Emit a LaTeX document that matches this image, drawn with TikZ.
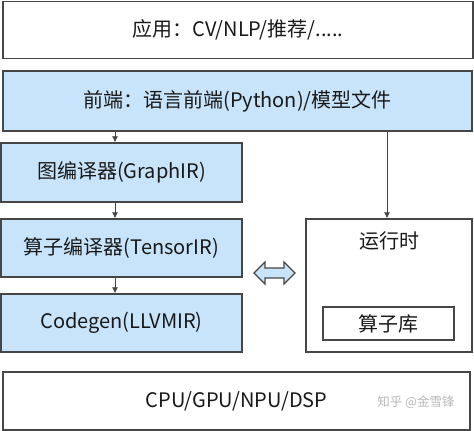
\documentclass[tikz,border=0pt]{standalone}
\usepackage{fontspec}
\setmainfont{Noto Sans CJK SC}
\usetikzlibrary{arrows.meta}
\definecolor{bluefill}{RGB}{200,228,250}
\definecolor{bordc}{RGB}{70,70,70}
\definecolor{txt}{RGB}{25,25,25}
\definecolor{wm}{RGB}{185,185,185}
\begin{document}
\begin{tikzpicture}[x=1pt,y=-1pt,
  box/.style={draw=bordc, line width=1.4pt, inner sep=0pt, text=txt, font=\fontsize{20}{23}\selectfont},
  bbox/.style={box, fill=bluefill},
  wbox/.style={box, fill=white},
  arr/.style={draw=bordc, line width=0.8pt, -{Latex[length=6pt,width=6pt]}}
]
\useasboundingbox (0,0) rectangle (474,431);
\fill[white] (0,0) rectangle (474,431);

\node[wbox, minimum width=470pt, minimum height=57pt] (app) at (238,30) {应用：CV/NLP/推荐/.....};
\node[bbox, minimum width=469pt, minimum height=60pt] (front) at (237.5,101) {前端：语言前端(Python)/模型文件};
\node[bbox, minimum width=241pt, minimum height=59pt] (graph) at (121.5,172.5) {图编译器(GraphIR)};
\node[bbox, minimum width=241pt, minimum height=58pt] (tensor) at (121.5,248) {算子编译器(TensorIR)};
\node[bbox, minimum width=241pt, minimum height=58pt] (codegen) at (121.5,323) {Codegen(LLVMIR)};
\node[wbox, minimum width=166pt, minimum height=133pt] (rt) at (389,285.5) {};
\node[text=txt, font=\fontsize{20}{23}\selectfont] (rtlabel) at (389,241) {运行时};
\node[wbox, line width=1.2pt, minimum width=131pt, minimum height=33pt] (oplib) at (388.5,323.5) {算子库};
\node[wbox, minimum width=467pt, minimum height=58pt] (hw) at (236.5,401) {CPU/GPU/NPU/DSP};
\node[text=wm, font=\fontsize{12.5}{14}\selectfont] (mark) at (416,402) {知乎 @金雪锋};

\coordinate (ax) at (115,0);
\coordinate (rx) at (387,0);
\draw[arr] (front.south -| ax) -- (graph.north -| ax);
\draw[arr] (graph.south -| ax) -- (tensor.north -| ax);
\draw[arr] (tensor.south -| ax) -- (codegen.north -| ax);
\draw[arr] (front.south -| rx) -- (rt.north -| rx);

\draw[draw=bordc, fill=bluefill, line width=1.3pt, line join=miter]
  (254,273) -- (265,262) -- (265,268) -- (284,268) -- (284,262) -- (295,273)
  -- (284,284) -- (284,278) -- (265,278) -- (265,284) -- cycle;
\end{tikzpicture}
\end{document}
